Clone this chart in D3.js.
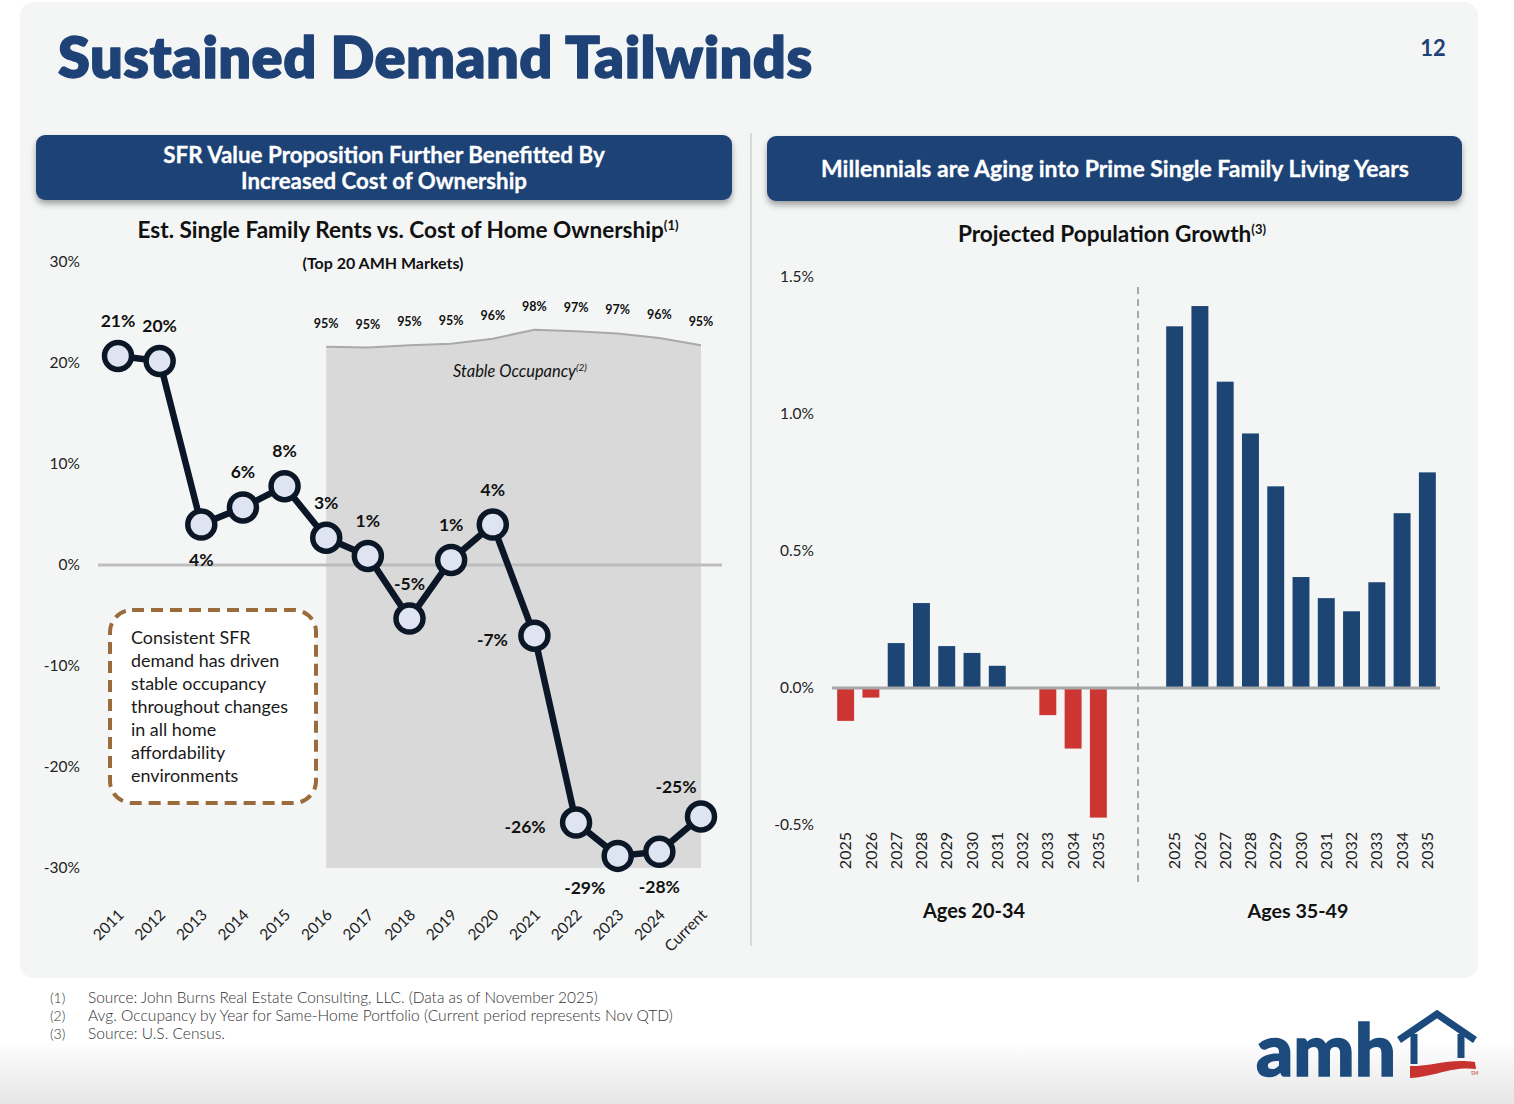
<!DOCTYPE html>
<html><head><meta charset="utf-8">
<script src="https://cdn.jsdelivr.net/npm/d3@7"></script>
<style>
html,body{margin:0;padding:0;background:#fff;}
svg{display:block;}
text{font-family:Lato,"Open Sans",sans-serif;}
</style></head>
<body>
<svg id="c" width="1514" height="1104"></svg>
<script>
// ---------- DATA ----------
const years = ["2011","2012","2013","2014","2015","2016","2017","2018","2019","2020","2021","2022","2023","2024","Current"];
const rentVsOwn = [20.7, 20.2, 4.0, 5.7, 7.8, 2.7, 0.9, -5.3, 0.5, 4.0, -7.0, -25.5, -28.8, -28.4, -24.9];
const rentLabels = ["21%","20%","4%","6%","8%","3%","1%","-5%","1%","4%","-7%","-26%","-29%","-28%","-25%"];
const rentLabelSide = ["t","t","b","t","t","t","t","t","t","t","l","l","bl","b","tl"];
const occYears = ["2016","2017","2018","2019","2020","2021","2022","2023","2024","Current"];
const occupancy = [95.3, 95.2, 95.5, 95.7, 96.4, 97.6, 97.4, 97.1, 96.5, 95.5];
const occLabels = ["95%","95%","95%","95%","96%","98%","97%","97%","96%","95%"];
const leftTicks = [-30,-20,-10,0,10,20,30];
const popYears = ["2025","2026","2027","2028","2029","2030","2031","2032","2033","2034","2035"];
const ages2034 = [-0.12, -0.035, 0.164, 0.31, 0.153, 0.128, 0.081, 0, -0.099, -0.221, -0.473];
const ages3549 = [1.32, 1.394, 1.118, 0.929, 0.736, 0.405, 0.328, 0.28, 0.386, 0.638, 0.787];
const rightTicks = [-0.5, 0, 0.5, 1.0, 1.5];
const boxLines = ["Consistent SFR","demand has driven","stable occupancy","throughout changes","in all home","affordability","environments"];
const footnotes = [["(1)","Source: John Burns Real Estate Consulting, LLC. (Data as of November 2025)"],
                   ["(2)","Avg. Occupancy by Year for Same-Home Portfolio (Current period represents Nov QTD)"],
                   ["(3)","Source: U.S. Census."]];

// ---------- HELPERS ----------
const svg = d3.select("#c");
const NAVY = "#1f4276", BAR = "#1c4574", RED = "#cc3531";
function fit(sel, w){
  const n = sel.node(); const l = n.getComputedTextLength();
  const fs = parseFloat(sel.attr("font-size"));
  sel.attr("font-size", (fs * w / l).toFixed(2));
  return sel;
}
const defs = svg.append("defs");
const f = defs.append("filter").attr("id","sh").attr("x","-5%").attr("y","-20%").attr("width","110%").attr("height","160%");
f.append("feDropShadow").attr("dx",0).attr("dy",4).attr("stdDeviation",3).attr("flood-color","#000").attr("flood-opacity",0.35);
const g1 = defs.append("linearGradient").attr("id","bg").attr("x1",0).attr("x2",0).attr("y1",0).attr("y2",1);
g1.append("stop").attr("offset",0).attr("stop-color","#ffffff");
g1.append("stop").attr("offset",1).attr("stop-color","#e6e6e6");

// ---------- PAGE ----------
svg.append("rect").attr("x",0).attr("y",1040).attr("width",1514).attr("height",64).attr("fill","url(#bg)");
svg.append("rect").attr("x",20).attr("y",2).attr("width",1458).attr("height",976).attr("rx",14).attr("fill","#f4f6f6");

fit(svg.append("text").attr("x",58).attr("y",78).attr("font-size",56)
  .attr("font-family","'Open Sans',Lato,sans-serif").attr("font-weight",800).attr("fill",NAVY)
  .attr("stroke",NAVY).attr("stroke-width",1.3).attr("stroke-linejoin","round").attr("letter-spacing",0.5)
  .text("Sustained Demand Tailwinds"), 755);
svg.append("text").attr("x",1433).attr("y",56).attr("text-anchor","middle").attr("font-size",22)
  .attr("font-weight",700).attr("fill",NAVY).attr("font-family","'Open Sans',sans-serif").text("12");

svg.append("line").attr("x1",751).attr("x2",751).attr("y1",133).attr("y2",946).attr("stroke","#d0d0d0").attr("stroke-width",1.5);

// header boxes
svg.append("rect").attr("x",36).attr("y",135).attr("width",696).attr("height",65).attr("rx",9).attr("fill",NAVY).attr("filter","url(#sh)");
svg.append("rect").attr("x",767).attr("y",136).attr("width",695).attr("height",65).attr("rx",9).attr("fill",NAVY).attr("filter","url(#sh)");
function headerText(xp, yp, txt, w){
  return fit(svg.append("text").attr("x",xp).attr("y",yp).attr("text-anchor","middle").attr("font-size",20).attr("font-weight",700)
    .attr("fill","#fff").attr("stroke","#fff").attr("stroke-width",0.3).text(txt), w);
}
headerText(384, 163, "SFR Value Proposition Further Benefitted By", 442);
headerText(384, 189, "Increased Cost of Ownership", 286);
headerText(1115, 177, "Millennials are Aging into Prime Single Family Living Years", 588);

// ---------- LEFT CHART ----------
const x = d3.scalePoint().domain(years).range([118, 701]);
const y = d3.scaleLinear().domain([-30, 30]).range([868, 262]);
const occY = d3.scaleLinear().domain([90, 100]).range([386, 312]);

const t1 = svg.append("text").attr("x",408).attr("y",238).attr("text-anchor","middle").attr("font-size",20).attr("font-weight",700).attr("fill","#111");
t1.append("tspan").text("Est. Single Family Rents vs. Cost of Home Ownership");
t1.append("tspan").attr("dy",-8).attr("font-size",13).text("(1)");
fit(t1, 543);
fit(svg.append("text").attr("x",383).attr("y",269).attr("text-anchor","middle").attr("font-size",14).attr("font-weight",700).attr("fill","#111")
  .text("(Top 20 AMH Markets)"), 161);

// y axis
const ax = svg.append("g").attr("transform","translate(80,0)")
  .call(d3.axisLeft(y).tickValues(leftTicks).tickSize(0).tickPadding(0).tickFormat(d => d + "%"));
ax.select(".domain").remove();
ax.selectAll("text").attr("font-size",15.5).attr("fill","#222").attr("font-family","Lato,sans-serif");

// occupancy area
const occData = occYears.map((k,i) => ({k, v: occupancy[i], lab: occLabels[i]}));
svg.append("path").datum(occData)
  .attr("d", d3.area().x(d => x(d.k)).y0(y(-30)).y1(d => occY(d.v)))
  .attr("fill","#d9d9d9");
svg.append("path").datum(occData)
  .attr("d", d3.line().x(d => x(d.k)).y(d => occY(d.v)))
  .attr("fill","none").attr("stroke","#a9a9a9").attr("stroke-width",2);
svg.selectAll(".occl").data(occData).enter().append("text")
  .attr("x", d => x(d.k)).attr("y", d => occY(d.v) - 19)
  .attr("text-anchor","middle").attr("font-size",12.5).attr("font-weight",700).attr("fill","#111")
  .text(d => d.lab);
const so = svg.append("text").attr("x",520).attr("y",377).attr("text-anchor","middle").attr("font-size",15).attr("font-style","italic").attr("fill","#111");
so.append("tspan").text("Stable Occupancy");
so.append("tspan").attr("dy",-6).attr("font-size",10).text("(2)");
fit(so, 135);

// zero line
svg.append("line").attr("x1",98).attr("x2",722).attr("y1",y(0)).attr("y2",y(0)).attr("stroke","#bdbdbd").attr("stroke-width",3);

// main line
const rd = years.map((k,i) => ({k, v: rentVsOwn[i], lab: rentLabels[i], side: rentLabelSide[i]}));
svg.append("path").datum(rd)
  .attr("d", d3.line().x(d => x(d.k)).y(d => y(d.v)))
  .attr("fill","none").attr("stroke","#0b1727").attr("stroke-width",6.5).attr("stroke-linejoin","round");
svg.selectAll(".pt").data(rd).enter().append("circle")
  .attr("cx", d => x(d.k)).attr("cy", d => y(d.v)).attr("r",13.5)
  .attr("fill","#dfe4f3").attr("stroke","#0b1727").attr("stroke-width",5.5);
const off = {t:[0,-29], b:[0,41], l:[-42,10], bl:[-33,38], tl:[-25,-23]};
off.l2 = [-51,10];
svg.selectAll(".pl").data(rd).enter().append("text")
  .attr("x", d => x(d.k) + (d.side === "l" && Math.abs(d.v) > 20 ? off.l2 : off[d.side])[0])
  .attr("y", d => y(d.v) + (d.side === "l" && Math.abs(d.v) > 20 ? off.l2 : off[d.side])[1])
  .attr("text-anchor","middle").attr("font-size",17.5).attr("font-weight",700).attr("fill","#111")
  .text(d => d.lab);

// x labels
svg.selectAll(".xl").data(years).enter().append("text")
  .attr("transform", d => `translate(${x(d) + 3},912) rotate(-45)`)
  .attr("text-anchor","end").attr("dy","0.35em").attr("font-size",15.5).attr("fill","#222")
  .text(d => d);

// dashed note box
svg.append("rect").attr("x",110).attr("y",610).attr("width",206).attr("height",193).attr("rx",22)
  .attr("fill","#fff").attr("stroke","#9c6b3c").attr("stroke-width",4).attr("stroke-dasharray","12 7");
const bt = svg.selectAll(".bt").data(boxLines).enter().append("text")
  .attr("x",131).attr("y",(d,i) => 644 + i*23).attr("font-size",16).attr("fill","#1a1a1a").text(d => d);
fit(d3.select(bt.nodes()[3]), 157);
const bfs = d3.select(bt.nodes()[3]).attr("font-size");
bt.attr("font-size", bfs);

// ---------- RIGHT CHART ----------
const y2 = d3.scaleLinear().domain([-0.5, 1.5]).range([825, 277]);
const xa = d3.scaleBand().domain(popYears).range([833, 1111]).paddingInner(0.33).paddingOuter(0.165);
const xb = d3.scaleBand().domain(popYears).range([1162, 1440]).paddingInner(0.33).paddingOuter(0.165);

const t2 = svg.append("text").attr("x",1112).attr("y",242).attr("text-anchor","middle").attr("font-size",20).attr("font-weight",700).attr("fill","#111");
t2.append("tspan").text("Projected Population Growth");
t2.append("tspan").attr("dy",-8).attr("font-size",13).text("(3)");
fit(t2, 310);

const ax2 = svg.append("g").attr("transform","translate(814,0)")
  .call(d3.axisLeft(y2).tickValues(rightTicks).tickSize(0).tickPadding(0).tickFormat(d => d.toFixed(1) + "%"));
ax2.select(".domain").remove();
ax2.selectAll("text").attr("font-size",15.5).attr("fill","#222").attr("font-family","Lato,sans-serif");

function bars(scale, vals){
  svg.append("g").selectAll("rect").data(popYears.map((k,i)=>({k, v: vals[i]}))).enter().append("rect")
    .attr("x", d => scale(d.k)).attr("width", scale.bandwidth())
    .attr("y", d => y2(Math.max(0, d.v))).attr("height", d => Math.abs(y2(d.v) - y2(0)))
    .attr("fill", d => d.v < 0 ? RED : BAR);
  svg.append("g").selectAll("text").data(popYears).enter().append("text")
    .attr("transform", d => `translate(${scale(d) + scale.bandwidth()/2},832) rotate(-90)`)
    .attr("text-anchor","end").attr("dy","0.35em").attr("font-size",16).attr("fill","#222").text(d => d);
}
bars(xa, ages2034);
bars(xb, ages3549);
svg.append("line").attr("x1",832).attr("x2",1440).attr("y1",y2(0)).attr("y2",y2(0)).attr("stroke","#a8a8a8").attr("stroke-width",3);
svg.append("line").attr("x1",1138).attr("x2",1138).attr("y1",287).attr("y2",885).attr("stroke","#a8a8a8").attr("stroke-width",2).attr("stroke-dasharray","7 5");
fit(svg.append("text").attr("x",974).attr("y",918).attr("text-anchor","middle").attr("font-size",18).attr("font-weight",700).attr("fill","#111").text("Ages 20-34"), 102);
fit(svg.append("text").attr("x",1298).attr("y",918).attr("text-anchor","middle").attr("font-size",18).attr("font-weight",700).attr("fill","#111").text("Ages 35-49"), 101);

// ---------- FOOTNOTES ----------
footnotes.forEach((fn,i) => {
  svg.append("text").attr("x",50).attr("y",1003 + i*18).attr("font-size",14).attr("font-weight",300).attr("fill","#333").text(fn[0]);
  const tt = svg.append("text").attr("x",88).attr("y",1003 + i*18).attr("font-size",14).attr("font-weight",300).attr("fill","#333").text(fn[1]);
  if (i === 0) fit(tt, 510);
  if (i === 1) fit(tt, 585);
  if (i === 2) fit(tt, 137);
});

// ---------- LOGO ----------
fit(svg.append("text").attr("x",1256).attr("y",1076).attr("font-size",60).attr("font-weight",900).attr("fill","#1d4a7c")
  .attr("stroke","#1d4a7c").attr("stroke-width",1.5)
  .attr("font-family","'Open Sans',Lato,sans-serif").text("amh"), 140);
svg.append("path").attr("d","M1399,1040 L1437,1014 L1475,1040")
  .attr("fill","none").attr("stroke","#1d4a7c").attr("stroke-width",7).attr("stroke-linejoin","miter");
svg.append("path").attr("d","M1414,1034 L1414,1064 M1461,1034 L1461,1058")
  .attr("fill","none").attr("stroke","#1d4a7c").attr("stroke-width",7);
svg.append("path").attr("d","M1410,1066 C1435,1066 1450,1058 1475,1062 L1476,1069 C1452,1066 1438,1076 1410,1078 Z")
  .attr("fill","#c9332f");
svg.append("text").attr("x",1471).attr("y",1075).attr("font-size",5).attr("fill","#c9332f").text("SM");
</script>
</body></html>
